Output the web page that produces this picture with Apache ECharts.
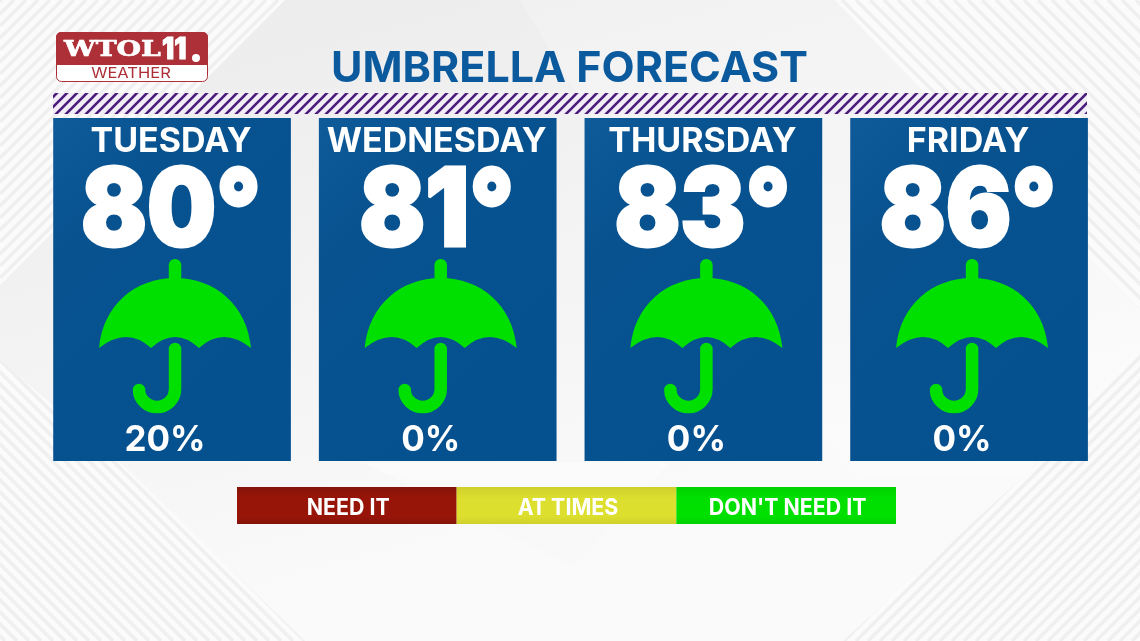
<!DOCTYPE html>
<html>
<head>
<meta charset="utf-8">
<style>html,body{margin:0;padding:0;background:#fff}#main{width:1140px;height:641px}</style>
<script src="https://cdn.jsdelivr.net/npm/echarts@6/dist/echarts.min.js"></script>
</head>
<body>
<div id="main"></div>
<script>
var days = ['TUESDAY', 'WEDNESDAY', 'THURSDAY', 'FRIDAY'];
var temps = [80, 81, 83, 86];
var chances = [20, 0, 0, 0];
var scaleLabels = ['NEED IT', 'AT TIMES', "DON'T NEED IT"];
var scaleSpans = [1, 1, 1];
var scaleColors = [
  ['#85130a', '#971508', '#85130a'],
  ['#cfcf2c', '#dcdf2e', '#cfcf2c'],
  ['#00d000', '#00e000', '#00d000']
];

var FONT = 'Inter, "Noto Sans", sans-serif';

function poly(points, fill, z) {
  return { type: 'polygon', silent: true, z: z, shape: { points: points }, style: { fill: fill } };
}

// background: stripes in the corners, a soft grey shape on top of them
function backgroundItems() {
  var items = [{ type: 'rect', silent: true, z: -20, shape: { x: 0, y: 0, width: 1140, height: 641 }, style: { fill: '#fbfbfb' } }];
  var line = function (x1, y1, x2, y2) {
    return { type: 'line', silent: true, z: -19, shape: { x1: x1, y1: y1, x2: x2, y2: y2 }, style: { stroke: '#efefef', lineWidth: 3.5 } };
  };
  var c;
  for (c = -10; c < 340; c += 12) items.push(line(c, 0, 0, c));
  for (c = 800; c < 1500; c += 14) items.push(line(c, 0, c + 340, 340));
  for (c = -320; c < 340; c += 12) items.push(line(c, 340, c + 301, 641));
  for (c = 700; c < 1160; c += 12) items.push(line(c, 641, c + 301, 340));

  items.push(poly([[285, 0], [835, 0], [1000, 170], [1140, 310], [1140, 350], [1025, 475], [843, 641], [305, 641], [125, 467], [0, 360], [0, 285]], {
    type: 'linear', x: 0, y: 0, x2: 0.15, y2: 1,
    colorStops: [{ offset: 0, color: '#ebebeb' }, { offset: 0.55, color: '#f3f3f3' }, { offset: 1, color: '#fafafa' }]
  }, -18));
  items.push(poly([[520, 0], [835, 0], [1140, 310], [1140, 350], [1025, 475], [860, 475], [700, 300]], 'rgba(255,255,255,0.22)', -17));
  items.push(poly([[364, 463], [669, 463], [574, 567]], {
    type: 'linear', x: 0, y: 0, x2: 0, y2: 1,
    colorStops: [{ offset: 0, color: 'rgba(255,255,255,0.5)' }, { offset: 1, color: 'rgba(240,240,240,0.15)' }]
  }, -17));
  return items;
}

// one tile of the diagonal hatch
function hatchTile() {
  var size = 10;
  var tile = document.createElement('canvas');
  tile.width = size;
  tile.height = size;
  var ctx = tile.getContext('2d');
  ctx.fillStyle = '#f1ecf5';
  ctx.fillRect(0, 0, size, size);
  ctx.strokeStyle = '#4b1c7a';
  ctx.lineWidth = 2.6;
  [[-size, size, size, -size], [0, size, size, 0], [0, 2 * size, 2 * size, 0]].forEach(function (l) {
    ctx.beginPath();
    ctx.moveTo(l[0], l[1]);
    ctx.lineTo(l[2], l[3]);
    ctx.stroke();
  });
  return tile;
}

// purple hatch band under the title
function hatchItems() {
  return [{
    type: 'rect', silent: true, z: -10,
    shape: { x: 53, y: 93, width: 1034, height: 21 },
    style: { fill: { image: hatchTile(), repeat: 'repeat' } }
  }];
}

// station logo
function logoItems() {
  var red = '#ad3038';
  return [
    { type: 'rect', silent: true, z: 1, shape: { x: 56.5, y: 32.5, width: 151, height: 49, r: 5 }, style: { fill: '#ffffff', stroke: red, lineWidth: 1 } },
    { type: 'rect', silent: true, z: 2, shape: { x: 56, y: 32, width: 152, height: 33, r: [5, 5, 0, 0] }, style: { fill: red } },
    { type: 'text', silent: true, z: 3, x: 64, y: 50.5, scaleX: 1.28, style: { text: 'WTOL', x: 0, y: 0, fill: '#fff', stroke: '#fff', lineWidth: 0.6, font: '900 22px "DejaVu Serif"', textAlign: 'left', textVerticalAlign: 'middle' } },
    { type: 'text', silent: true, z: 3, x: 162, y: 50, scaleX: 0.9, style: { text: '11', x: 0, y: 0, fill: '#fff', stroke: '#fff', lineWidth: 1, font: '900 30px Inter', textAlign: 'left', textVerticalAlign: 'middle' } },
    { type: 'circle', silent: true, z: 3, shape: { cx: 196, cy: 58, r: 4 }, style: { fill: '#fff' } },
    { type: 'text', silent: true, z: 3, x: 131, y: 73.5, scaleX: 1.18, style: { text: 'WEATHER', x: 0, y: 0, fill: red, font: '400 14px Inter', textAlign: 'center', textVerticalAlign: 'middle' } }
  ];
}

var CANOPY = 'M-76 230 C-72 187 -40 160 0 160 C40 160 72 187 76 230 Q48 208 24 230 Q0 208 -24 230 Q-48 208 -76 230 Z';
var HANDLE = 'M0 231 L0 271 C0 281 -8 289 -18 289 C-28 289 -36 281 -36 272';

function renderPanel(params, api) {
  var i = api.value(0);
  var top = api.coord([i, 1]);
  var bottom = api.coord([i, 0]);
  var w = api.size([1, 0])[0] - 28;
  var green = '#00e000';
  var bg = {
    type: 'linear', x: 0, y: 0, x2: 1, y2: 0.7,
    colorStops: [{ offset: 0, color: '#0f5a99' }, { offset: 0.3, color: '#07528f' }, { offset: 1, color: '#05508f' }]
  };
  return {
    type: 'group',
    x: top[0],
    y: top[1],
    children: [
      { type: 'rect', shape: { x: -w / 2, y: 0, width: w, height: bottom[1] - top[1] }, style: { fill: bg } },
      { type: 'text', style: { text: days[i], x: -1, y: 24, fill: '#fff', font: '700 34px ' + FONT, textAlign: 'center', textVerticalAlign: 'middle' } },
      { type: 'text', x: -1, y: 96, scaleX: 0.9, style: { text: api.value(1) + '°', x: 0, y: 0, fill: '#fff', stroke: '#fff', lineWidth: 3, font: '900 108px ' + FONT, textAlign: 'center', textVerticalAlign: 'middle' } },
      {
        type: 'group', x: 3, children: [
          { type: 'rect', shape: { x: -6.25, y: 141, width: 12.5, height: 24, r: 6 }, style: { fill: green } },
          { type: 'path', shape: { pathData: CANOPY, x: -76, y: 160, width: 152, height: 70 }, style: { fill: green } },
          { type: 'path', shape: { pathData: HANDLE, x: -36, y: 231, width: 36, height: 58 }, style: { fill: null, stroke: green, lineWidth: 12.5, lineCap: 'round' } }
        ]
      },
      { type: 'text', style: { text: api.value(2) + '%', x: -7, y: 322, fill: '#fff', font: '700 35px ' + FONT, textAlign: 'center', textVerticalAlign: 'middle' } }
    ]
  };
}

function renderScale(params, api) {
  var i = api.value(0);
  var a = api.coord([api.value(1), 0]);
  var b = api.coord([api.value(2), 1]);
  var c = scaleColors[i];
  return {
    type: 'group',
    children: [
      {
        type: 'rect', shape: { x: a[0], y: b[1], width: b[0] - a[0], height: a[1] - b[1] },
        style: {
          fill: {
            type: 'linear', x: 0, y: 0, x2: 0, y2: 1,
            colorStops: [{ offset: 0, color: c[0] }, { offset: 0.3, color: c[1] }, { offset: 0.8, color: c[1] }, { offset: 1, color: c[2] }]
          }
        }
      },
      {
        type: 'text', x: (a[0] + b[0]) / 2 + 1.5, y: (a[1] + b[1]) / 2 + 2.5, scaleX: 0.93,
        style: { text: scaleLabels[i], x: 0, y: 0, fill: '#fff', font: '700 23px ' + FONT, textAlign: 'center', textVerticalAlign: 'middle' }
      }
    ]
  };
}

var scaleData = [];
var start = 0;
scaleSpans.forEach(function (s, i) {
  scaleData.push([i, start, start + s]);
  start += s;
});

var chart = echarts.init(document.getElementById('main'));
chart.setOption({
  animation: false,
  title: {
    text: 'UMBRELLA FORECAST',
    left: 564.5,
    top: 43,
    textAlign: 'center',
    textStyle: { color: '#0b5a9e', fontFamily: FONT, fontWeight: 700, fontSize: 43 }
  },
  graphic: { elements: backgroundItems().concat(hatchItems(), logoItems()) },
  grid: [
    { left: 39.2, top: 118, width: 1062.7, height: 343 },
    { left: 237, top: 487, width: 659, height: 37 }
  ],
  xAxis: [
    { type: 'category', gridIndex: 0, data: days, show: false },
    { type: 'value', gridIndex: 1, min: 0, max: 3, show: false }
  ],
  yAxis: [
    { type: 'value', gridIndex: 0, min: 0, max: 1, show: false },
    { type: 'value', gridIndex: 1, min: 0, max: 1, show: false }
  ],
  series: [
    {
      type: 'custom', xAxisIndex: 0, yAxisIndex: 0, renderItem: renderPanel, silent: true,
      data: days.map(function (d, i) { return [i, temps[i], chances[i]]; })
    },
    { type: 'custom', xAxisIndex: 1, yAxisIndex: 1, renderItem: renderScale, silent: true, data: scaleData }
  ]
});
</script>
</body>
</html>
